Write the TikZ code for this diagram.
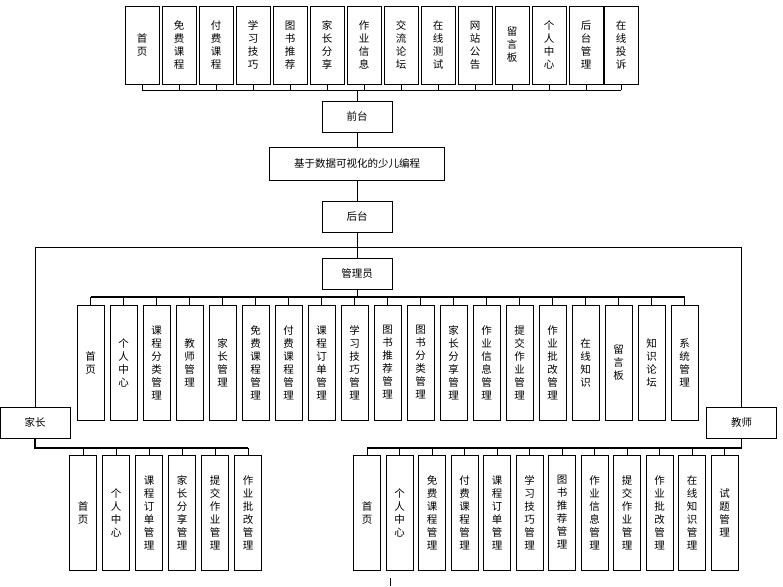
\documentclass[tikz,border=0pt]{standalone}
\usepackage{fontspec}
\newfontfamily\cjk{Noto Sans CJK SC}
\begin{document}
\begin{tikzpicture}[x=1pt,y=-1pt,
  box/.style={draw,thick,fill=white,font=\cjk\fontsize{10.5}{13}\selectfont,align=center,inner sep=0pt},
  vb/.style={box,minimum width=27pt},
  ln/.style={draw,thin}]
\useasboundingbox (0,0) rectangle (783,586);
% top row
\foreach \t [count=\i] in {首\\页,免\\费\\课\\程,付\\费\\课\\程,学\\习\\技\\巧,图\\书\\推\\荐,家\\长\\分\\享,作\\业\\信\\息,交\\流\\论\\坛,在\\线\\测\\试,网\\站\\公\\告,留\\言\\板,个\\人\\中\\心,后\\台\\管\\理,在\\线\\投\\诉}{
  \pgfmathsetmacro\cx{142+37*(\i-1)-(\i==14)*2}
  \node[box,minimum width=34pt,minimum height=78pt] (t\i) at (\cx,45) {\t};
  \coordinate (tb\i) at (\cx,90);
  \draw[ln] (t\i.south) -- (tb\i);
}
\draw[ln] (tb1) -- (tb14);
\node[box,minimum width=70pt,minimum height=31pt] (qt) at (357,116.5) {前台};
\draw[ln] (qt.north) -- (357,90);
\node[box,minimum width=175pt,minimum height=33pt] (jy) at (357,163.5) {基于数据可视化的少儿编程};
\node[box,minimum width=70pt,minimum height=31pt] (ht) at (357,216.5) {后台};
\draw[ln] (qt) -- (jy);
\draw[ln] (jy) -- (ht);
\node[box,minimum width=70pt,minimum height=31pt] (gl) at (357,273.5) {管理员};
\node[box,minimum width=70pt,minimum height=31pt] (jz) at (35,422.5) {家长};
\node[box,minimum width=70pt,minimum height=31pt] (js) at (741.5,422.5) {教师};
\coordinate (hl) at (35,247); \coordinate (hr) at (741.5,247); \coordinate (hm) at (357,247);
\draw[ln] (ht) -- (gl);
\draw[ln] (jz.north) -- (hl) -- (hr) -- (js.north);
% admin row
\foreach \t [count=\i] in {首\\页,个\\人\\中\\心,课\\程\\分\\类\\管\\理,教\\师\\管\\理,家\\长\\管\\理,免\\费\\课\\程\\管\\理,付\\费\\课\\程\\管\\理,课\\程\\订\\单\\管\\理,学\\习\\技\\巧\\管\\理,图\\书\\推\\荐\\管\\理,图\\书\\分\\类\\管\\理,家\\长\\分\\享\\管\\理,作\\业\\信\\息\\管\\理,提\\交\\作\\业\\管\\理,作\\业\\批\\改\\管\\理,在\\线\\知\\识,留\\言\\板,知\\识\\论\\坛,系\\统\\管\\理}{
  \pgfmathsetmacro\cx{90.5+33*(\i-1)}
  \node[vb,minimum height=115pt] (a\i) at (\cx,362.5) {\t};
  \coordinate (ab\i) at (\cx,297);
  \draw[ln] (a\i.north) -- (ab\i);
}
\draw[very thick] (ab1) -- (ab19);
\draw[ln] (gl.south) -- (357,297);
% parent row
\foreach \t [count=\i] in {首\\页,个\\人\\中\\心,课\\程\\订\\单\\管\\理,家\\长\\分\\享\\管\\理,提\\交\\作\\业\\管\\理,作\\业\\批\\改\\管\\理}{
  \pgfmathsetmacro\cx{83+33*(\i-1)}
  \node[vb,minimum height=115pt] (p\i) at (\cx,512.5) {\t};
  \coordinate (pb\i) at (\cx,448);
  \draw[ln] (p\i.north) -- (pb\i);
}
\coordinate (pl) at (35,448);
\draw[very thick] (jz.south) -- (pl) -- (pb6);
% teacher row
\foreach \t [count=\i] in {首\\页,个\\人\\中\\心,免\\费\\课\\程\\管\\理,付\\费\\课\\程\\管\\理,课\\程\\订\\单\\管\\理,学\\习\\技\\巧\\管\\理,图\\书\\推\\荐\\管\\理,作\\业\\信\\息\\管\\理,提\\交\\作\\业\\管\\理,作\\业\\批\\改\\管\\理,在\\线\\知\\识\\管\\理,试\\题\\管\\理}{
  \pgfmathsetmacro\cx{367+32.5*(\i-1)}
  \node[vb,minimum height=115pt] (e\i) at (\cx,512.5) {\t};
  \coordinate (eb\i) at (\cx,448);
  \draw[ln] (e\i.north) -- (eb\i);
}
\coordinate (er) at (741.5,448);
\draw[very thick] (eb1) -- (er) -- (js.south);
\coordinate (bz1) at (390,578); \coordinate (bz2) at (390,586);
\draw[thick] (bz1) -- (bz2);
\end{tikzpicture}
\end{document}
